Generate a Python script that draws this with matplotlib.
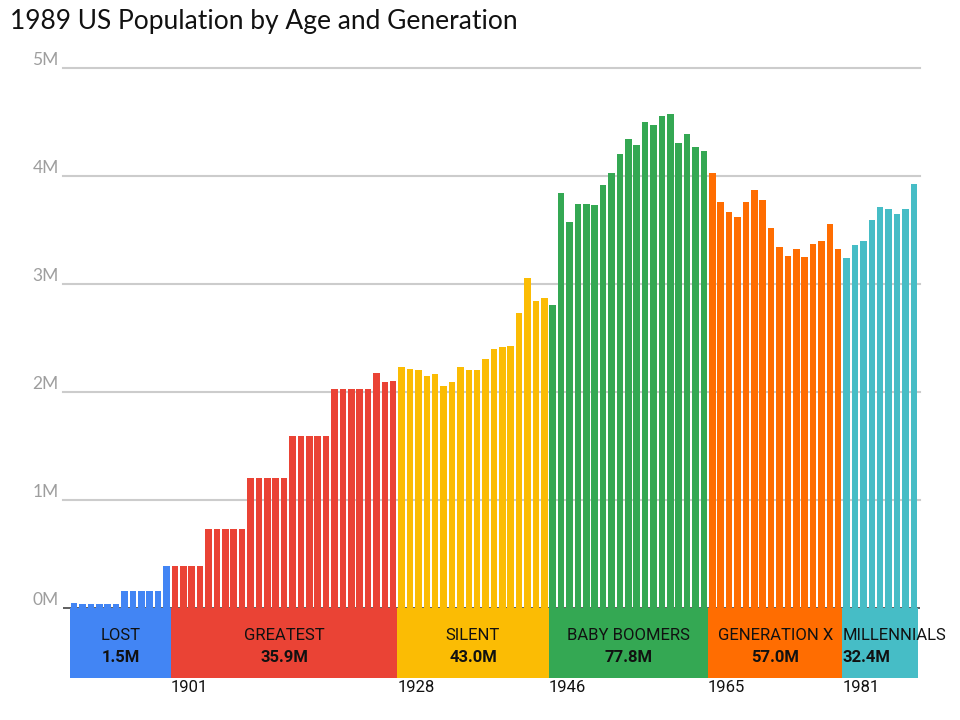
import numpy as np
import matplotlib.pyplot as plt

# population by birth year, 1889..1989 (millions)
first_year = 1889
population = [
    # Lost 1889-1900
    0.05, 0.035, 0.035, 0.035, 0.035, 0.035, 0.155, 0.155, 0.155, 0.155, 0.155, 0.385,
    # Greatest 1901-1927
    0.385, 0.385, 0.385, 0.385, 0.73, 0.73, 0.73, 0.73, 0.73,
    1.20, 1.20, 1.20, 1.20, 1.20, 1.59, 1.59, 1.59, 1.59, 1.59,
    2.025, 2.025, 2.025, 2.025, 2.025, 2.18, 2.09, 2.10,
    # Silent 1928-1945
    2.23, 2.21, 2.20, 2.15, 2.17, 2.06, 2.09, 2.23, 2.20, 2.20, 2.31, 2.40,
    2.42, 2.43, 2.73, 3.06, 2.84, 2.87,
    # Baby boomers 1946-1964
    2.81, 3.84, 3.57, 3.74, 3.74, 3.73, 3.92, 4.03, 4.20, 4.34, 4.29, 4.50,
    4.47, 4.56, 4.57, 4.31, 4.39, 4.27, 4.23,
    # Generation X 1965-1980
    4.03, 3.76, 3.67, 3.62, 3.76, 3.87, 3.78, 3.52, 3.34, 3.26, 3.32, 3.25,
    3.37, 3.40, 3.56, 3.32,
    # Millennials 1981-1989
    3.24, 3.36, 3.40, 3.59, 3.71, 3.69, 3.65, 3.69, 3.93,
]

generations = ['LOST', 'GREATEST', 'SILENT', 'BABY BOOMERS', 'GENERATION X', 'MILLENNIALS']
gen_start = [1889, 1901, 1928, 1946, 1965, 1981]
gen_end = [1900, 1927, 1945, 1964, 1980, 1989]
gen_totals = ['1.5M', '35.9M', '43.0M', '77.8M', '57.0M', '32.4M']
gen_colors = ['#4285F4', '#EA4335', '#FBBC04', '#34A853', '#FF6D01', '#46BDC6']
label_align = ['center', 'center', 'center', 'center', 'center', 'left']

y_ticks = [0, 1, 2, 3, 4, 5]
y_labels = ['0M', '1M', '2M', '3M', '4M', '5M']

years = np.arange(first_year, first_year + len(population))
idx = years - first_year

bar_colors = []
for y in years:
    for s, e, c in zip(gen_start, gen_end, gen_colors):
        if s <= y <= e:
            bar_colors.append(c)

band_h = 0.648

fig = plt.figure(figsize=(9.6, 7.2), dpi=100)
ax = fig.add_axes([63 / 960, 42 / 720, 857 / 960, (678 - 65.84) / 720])

ax.bar(idx, population, width=0.78, color=bar_colors, zorder=3)

for t in y_ticks[1:]:
    ax.axhline(t, color='#cccccc', lw=1.5, zorder=1, clip_on=False)
ax.axhline(0, color='#444444', lw=1.2, zorder=1)

# generation bands under the axis
for name, s, e, tot, c, ha in zip(generations, gen_start, gen_end, gen_totals,
                                   gen_colors, label_align):
    left = s - first_year - 0.5
    width = e - s + 1
    ax.bar(left, band_h, width=width, bottom=-band_h, align='edge',
           color=c, zorder=4)
    tx = left + width / 2 if ha == 'center' else left
    ax.text(tx, -band_h * 0.39, name, ha=ha, va='center', fontsize=12,
            family='Roboto', color='#111111', zorder=5)
    ax.text(tx, -band_h * 0.71, tot, ha=ha, va='center', fontsize=12,
            family='Roboto', fontweight='bold', color='#111111', zorder=5)
    if s != first_year:
        ax.text(left, -band_h - 0.09, str(s), ha='left', va='center',
                fontsize=12, family='Roboto', color='#111111', clip_on=False)

ax.set_xlim(-1.33, len(population) - 0.5 + 0.24)
ax.set_ylim(-band_h, 5.02)
ax.set_yticks(y_ticks)
ax.set_yticklabels(y_labels)
for lbl in ax.get_yticklabels():
    lbl.set_verticalalignment('bottom')
    lbl.set_family('Lato')
    lbl.set_fontsize(12.5)
    lbl.set_color('#9e9e9e')
ax.tick_params(axis='y', length=0, pad=3)
ax.set_xticks([])
for sp in ax.spines.values():
    sp.set_visible(False)

fig.text(10 / 960, 1 - 22 / 720, '1989 US Population by Age and Generation',
         ha='left', va='center', fontsize=19, family='Lato', color='#111111')

fig.savefig('out.png', dpi=100)
